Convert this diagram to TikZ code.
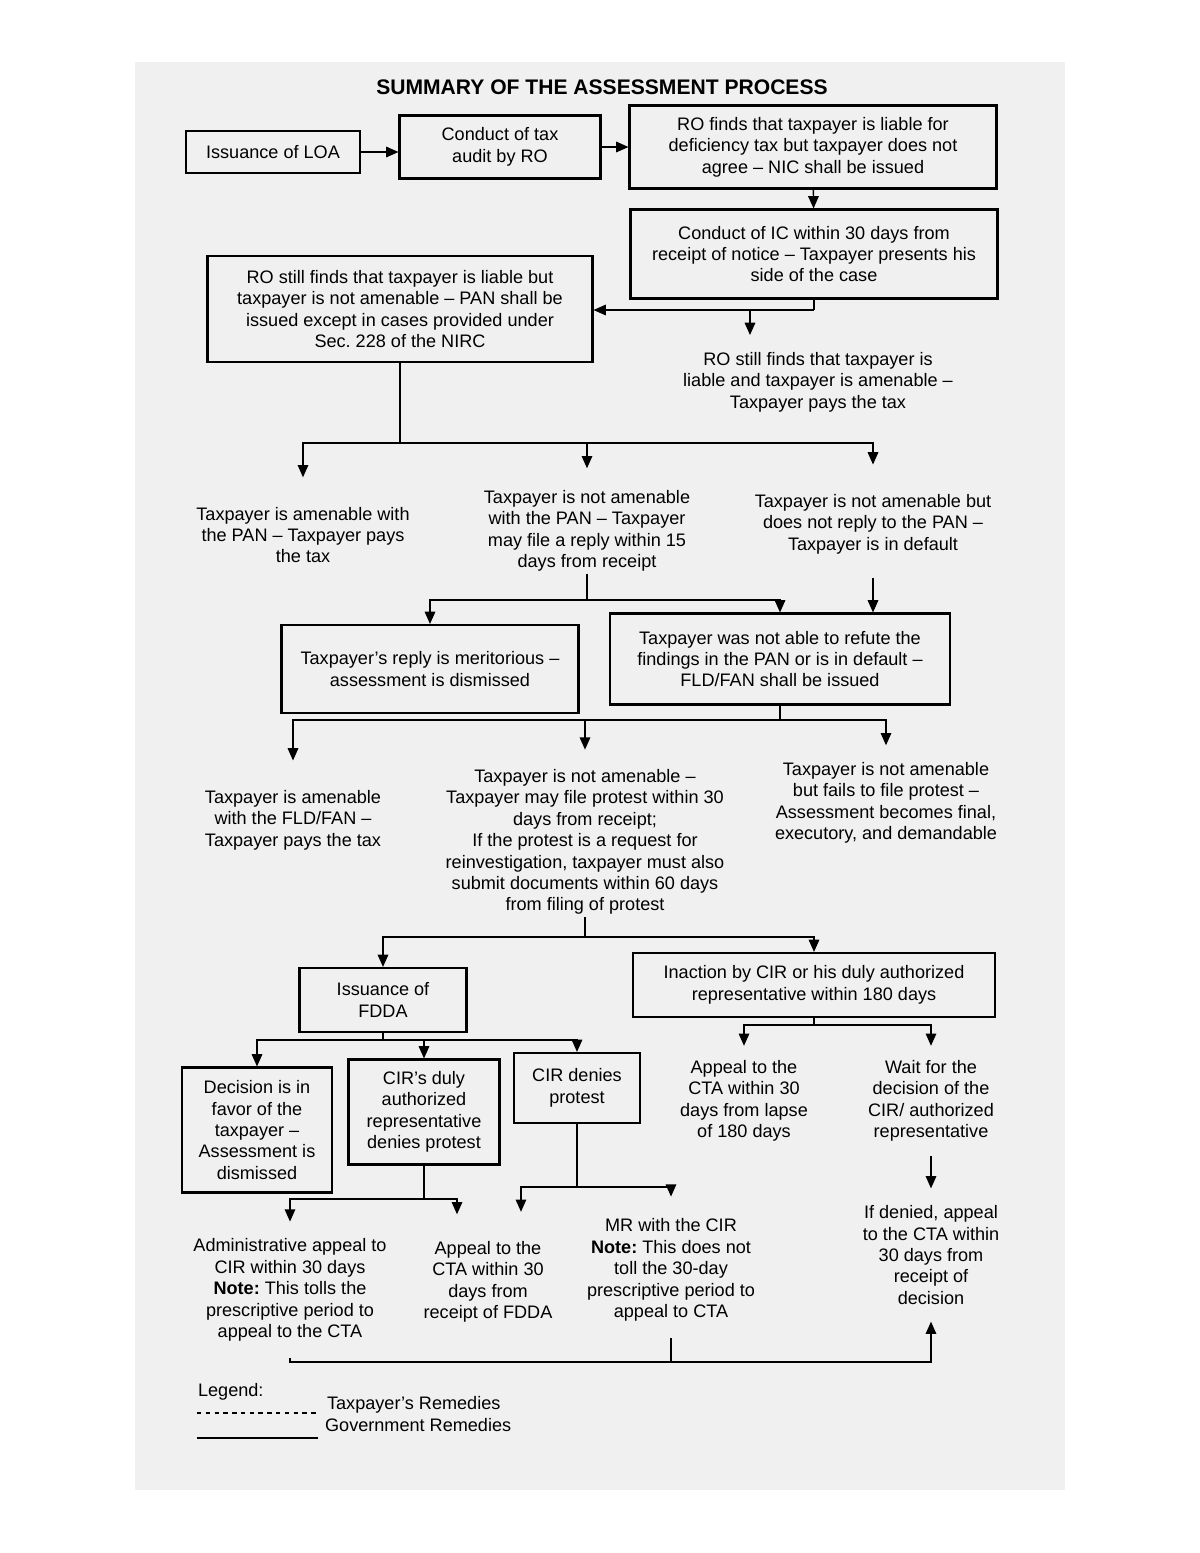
\documentclass[tikz,border=0pt]{standalone}
\usepackage{fontspec}
\setmainfont{Liberation Sans}
\usetikzlibrary{arrows.meta}
\frenchspacing
\begin{document}
\begin{tikzpicture}[x=0.02cm,y=-0.02cm,
    box/.style={draw, line width=1.2pt, align=center, inner sep=2pt, font=\fontsize{10.3}{12.2}\selectfont},
    txt/.style={align=center, inner sep=1pt, font=\fontsize{10.3}{12.2}\selectfont},
    arr/.style={line width=0.8pt, -{Triangle[width=6pt,length=7pt]}},
    ln/.style={line width=0.8pt}]
\useasboundingbox (0,0) rectangle (1200,1553);
\fill[black!6] (135,62) rectangle (1065,1490);

\node[font=\bfseries\fontsize{12}{14}\selectfont] (title) at (602,87) {SUMMARY OF THE ASSESSMENT PROCESS};

\node[box, minimum width=3.48cm, minimum height=0.84cm] (loa) at (273,152) {Issuance of LOA};
\node[box, minimum width=4.02cm, minimum height=1.26cm] (audit) at (500,147) {Conduct of tax\\audit by RO};
\node[box, minimum width=7.34cm, minimum height=1.66cm] (nic) at (813,147) {RO finds that taxpayer is liable for\\deficiency tax but taxpayer does not\\agree -- NIC shall be issued};
\node[box, minimum width=7.34cm, minimum height=1.78cm] (ic) at (814,254) {Conduct of IC within 30 days from\\receipt of notice -- Taxpayer presents his\\side of the case};
\node[box, minimum width=7.7cm, minimum height=2.12cm] (pan) at (400,309) {RO still finds that taxpayer is liable but\\taxpayer is not amenable -- PAN shall be\\issued except in cases provided under\\Sec. 228 of the NIRC};
\node[txt] (amen) at (818,382) {RO still finds that taxpayer is\\liable and taxpayer is amenable --\\Taxpayer pays the tax};

\draw[arr] (loa.east) -- (loa.east -| audit.west);
\draw[arr] (audit) -- (nic);
\draw[arr] (nic) -- (ic);
\coordinate (br0) at (814,310);
\coordinate (k0) at (750,310);
\draw[ln] (ic) -- (br0);
\draw[arr] (br0) -- (br0 -| pan.east);
\draw[arr, shorten >=0.3cm] (k0) -- (k0 |- amen.north);

\node[txt] (a1) at (303,535) {Taxpayer is amenable with\\the PAN -- Taxpayer pays\\the tax};
\node[txt] (a2) at (587,531) {Taxpayer is not amenable\\with the PAN -- Taxpayer\\may file a reply within 15\\days from receipt};
\node[txt] (a3) at (873,524) {Taxpayer is not amenable but\\does not reply to the PAN --\\Taxpayer is in default};
\coordinate (br1) at (400,443);
\draw[ln] (pan) -- (br1);
\draw[arr, shorten >=0.55cm] (br1) -| (a1);
\draw[arr, shorten >=0.4cm] (br1) -| (a2);
\draw[arr, shorten >=0.55cm] (br1) -| (a3);

\node[box, minimum width=5.94cm, minimum height=1.76cm] (reply) at (430,669) {Taxpayer's reply is meritorious --\\assessment is dismissed};
\node[box, minimum width=6.8cm, minimum height=1.82cm] (fld) at (780,659) {Taxpayer was not able to refute the\\findings in the PAN or is in default --\\FLD/FAN shall be issued};
\coordinate (br2) at (587,600);
\draw[ln] (a2) -- (br2);
\draw[arr] (br2) -| (reply);
\draw[arr] (br2) -| (fld);
\draw[arr, shorten <=0.45cm] (a3) -- (a3 |- fld.north);

\node[txt] (b1) at (293,820) {Taxpayer is amenable\\with the FLD/FAN --\\Taxpayer pays the tax};
\node[txt] (b2) at (585,842) {Taxpayer is not amenable --\\Taxpayer may file protest within 30\\days from receipt;\\If the protest is a request for\\reinvestigation, taxpayer must also\\submit documents within 60 days\\from filing of protest};
\node[txt] (b3) at (886,803) {Taxpayer is not amenable\\but fails to file protest --\\Assessment becomes final,\\executory, and demandable};
\coordinate (br3) at (780,720);
\draw[ln] (fld) -- (br3);
\draw[arr, shorten >=0.55cm] (br3) -| (b1);
\draw[arr, shorten >=0.35cm] (br3) -| (b2);
\draw[arr, shorten >=0.3cm] (br3) -| (b3);

\node[box, minimum width=3.34cm, minimum height=1.28cm] (fdda) at (383,1000) {Issuance of\\FDDA};
\node[box, minimum width=7.24cm, minimum height=1.28cm] (inact) at (814,985) {Inaction by CIR or his duly authorized\\representative within 180 days};
\coordinate (br4) at (585,937);
\draw[ln] (b2) -- (br4);
\draw[arr] (br4) -| (fdda);
\draw[arr] (br4) -| (inact);

\node[box, minimum width=3.0cm, minimum height=2.5cm] (c1) at (257,1130) {Decision is in\\favor of the\\taxpayer --\\Assessment is\\dismissed};
\node[box, minimum width=3.02cm, minimum height=2.1cm] (c2) at (424,1112) {CIR's duly\\authorized\\representative\\denies protest};
\node[box, minimum width=2.52cm, minimum height=1.4cm] (c3) at (577,1088) {CIR denies\\protest};
\node[txt] (c4) at (744,1101) {Appeal to the\\CTA within 30\\days from lapse\\of 180 days};
\node[txt] (c5) at (931,1101) {Wait for the\\decision of the\\CIR/ authorized\\representative};
\coordinate (br5) at (383,1040);
\draw[ln] (fdda) -- (br5);
\draw[arr] (br5) -| (c1);
\draw[arr] (br5) -| (c2);
\draw[arr] (br5) -| (c3);
\coordinate (br6) at (814,1025);
\draw[ln] (inact) -- (br6);
\draw[arr, shorten >=0.25cm] (br6) -| (c4);
\draw[arr, shorten >=0.25cm] (br6) -| (c5);

\node[txt] (d1) at (290,1290) {Administrative appeal to\\CIR within 30 days\\\textbf{Note:} This tolls the\\prescriptive period to\\appeal to the CTA};
\node[txt] (d2) at (488,1282) {Appeal to the\\CTA within 30\\days from\\receipt of FDDA};
\node[txt] (d3) at (671,1270) {MR with the CIR\\\textbf{Note:} This does not\\toll the 30-day\\prescriptive period to\\appeal to CTA};
\node[txt] (d4) at (931,1255) {If denied, appeal\\to the CTA within\\30 days from\\receipt of\\decision};
\coordinate (br7) at (424,1199);
\draw[ln] (c2) -- (br7);
\draw[arr, shorten >=0.3cm] (br7) -| (d1);
\draw[arr, shorten >=0.5cm] (br7) -| ([xshift=-0.62cm]d2.north);
\coordinate (br8) at (577,1187);
\draw[ln] (c3) -- (br8);
\draw[arr, shorten >=0.55cm] (br8) -| ([xshift=0.66cm]d2.north);
\draw[arr, shorten >=0.4cm] (br8) -| (d3);
\draw[arr, shorten <=0.25cm, shorten >=0.3cm] (c5) -- (d4);

\coordinate (low) at (671,1362);
\draw[arr, shorten <=0.3cm, shorten >=0.3cm] (d1) |- (low) -| (d4);
\draw[ln, shorten <=0.3cm] (d3) -- (d3 |- low);

\node[txt, anchor=west] (leg) at (196,1392) {Legend:};
\coordinate (l1) at (197,1413);
\coordinate (l2) at (318,1413);
\coordinate (l3) at (197,1438);
\coordinate (l4) at (318,1438);
\draw[line width=0.6pt, dash pattern=on 2.5pt off 2.5pt] (l1) -- (l2);
\draw[line width=0.8pt] (l3) -- (l4);
\node[txt, anchor=west] (tr) at (325,1405) {Taxpayer's Remedies};
\node[txt, anchor=west] (gr) at (323,1425) {Government Remedies};
\end{tikzpicture}
\end{document}
